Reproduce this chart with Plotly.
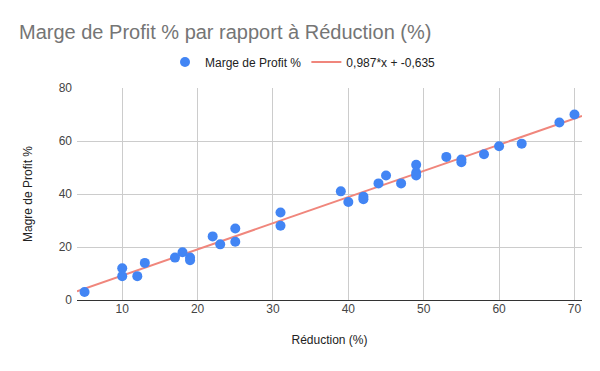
import plotly.graph_objects as go

reduction = [5, 10, 10, 12, 13, 17, 18, 19, 19, 22, 23, 25, 25, 31, 31,
             39, 40, 42, 42, 44, 45, 47, 49, 49, 49, 53, 55, 55, 58, 60, 63, 68, 70]
marge = [3, 12, 9, 9, 14, 16, 18, 16, 15, 24, 21, 27, 22, 33, 28,
         41, 37, 39, 38, 44, 47, 44, 51, 48, 47, 54, 53, 52, 55, 58, 59, 67, 70]
slope = 0.987
intercept = -0.635
x_range = [4, 71]
y_ticks = [0, 20, 40, 60, 80]
x_ticks = [10, 20, 30, 40, 50, 60, 70]

title_text = "Marge de Profit % par rapport à Réduction (%)"
series_name = "Marge de Profit %"
trend_name = "0,987*x + -0,635"
x_title = "Réduction (%)"
y_title = "Magre de Profit %"

FONT = "Arial, 'Liberation Sans', sans-serif"

trend_x = x_range
trend_y = [slope * v + intercept for v in trend_x]

fig = go.Figure()
fig.add_trace(go.Scatter(
    x=trend_x, y=trend_y, mode="lines", name=trend_name,
    line=dict(color="#F0867C", width=2), hoverinfo="skip"))
fig.add_trace(go.Scatter(
    x=reduction, y=marge, mode="markers", name=series_name,
    marker=dict(color="#4285F4", size=10, line=dict(width=0))))

fig.update_layout(
    width=600, height=371,
    margin=dict(l=77, r=18, t=88, b=71, autoexpand=False),
    paper_bgcolor="white", plot_bgcolor="white",
    font=dict(family=FONT, size=12, color="#222"),
    title=dict(text=title_text, x=19 / 600, xanchor="left", xref="container",
               y=1 - 32 / 371, yanchor="middle", yref="container",
               font=dict(family=FONT, size=20, color="#757575")),
    showlegend=True,
    legend=dict(orientation="h", xref="container", yref="container",
                x=0.505, xanchor="center", y=1 - 62 / 371, yanchor="middle",
                traceorder="reversed", font=dict(family=FONT, size=12, color="#222"),
                itemwidth=30, bgcolor="rgba(0,0,0,0)"),
    xaxis=dict(range=x_range, tickvals=x_ticks, showgrid=True, gridcolor="#CCCCCC",
               gridwidth=1, zeroline=False, showline=False, ticks="", automargin=False,
               tickfont=dict(family=FONT, size=12, color="#444"),
               title=dict(text=x_title, standoff=20,
                          font=dict(family=FONT, size=12, color="#222"))),
    yaxis=dict(range=[0, 80], tickvals=y_ticks, showgrid=True, gridcolor="#CCCCCC",
               gridwidth=1, zeroline=True, zerolinecolor="#333333", zerolinewidth=1,
               showline=False, ticks="", ticklabelstandoff=4, automargin=False,
               tickfont=dict(family=FONT, size=12, color="#444"),
               title=dict(text=y_title, standoff=23,
                          font=dict(family=FONT, size=12, color="#222"))),
)

fig.write_html("out.html", config={"displayModeBar": False},
               post_script="document.body.style.margin='0';document.body.style.padding='0';")
